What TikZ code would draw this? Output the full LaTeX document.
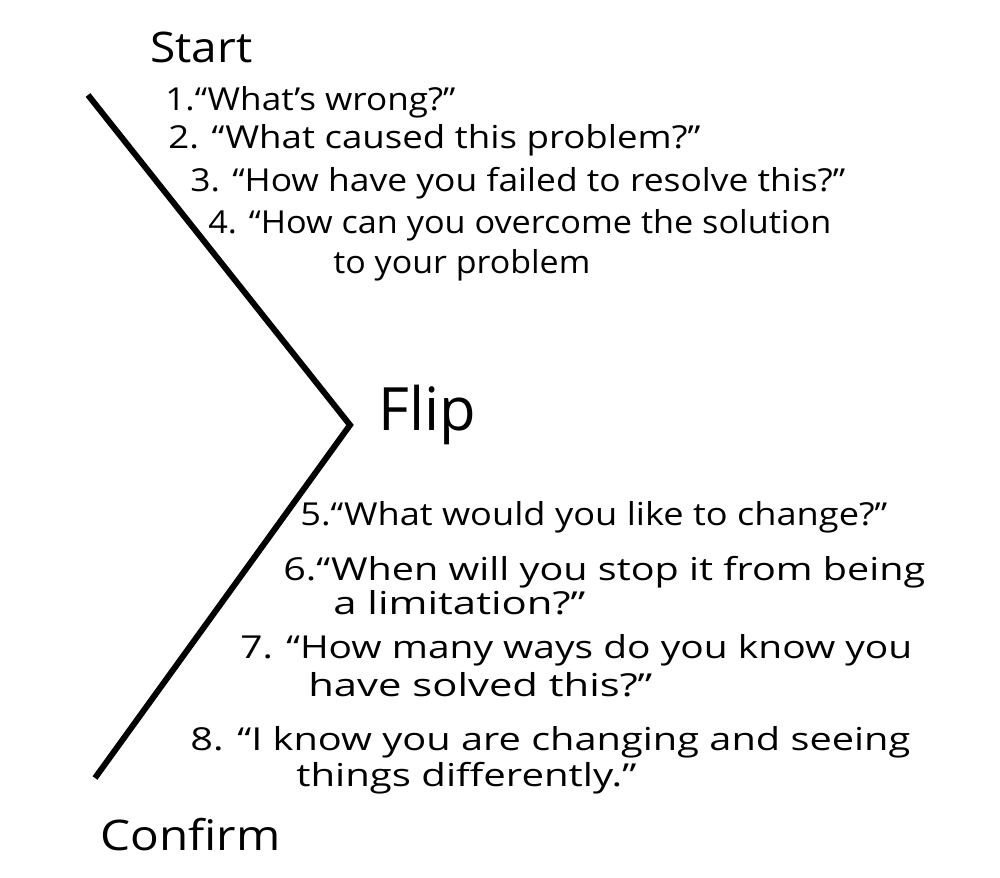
\documentclass[tikz,border=0pt]{standalone}
\usepackage{fontspec}
\usepackage{graphicx}
\setmainfont{Open Sans}
\newcommand{\hw}[2]{\resizebox{#1cm}{\height}{#2}}
\begin{document}
\begin{tikzpicture}[x=0.02cm,y=-0.02cm,
  hand/.style={anchor=west,inner sep=0pt,font=\fontsize{18}{20}\selectfont},
  title/.style={anchor=west,inner sep=0pt,font=\fontsize{24}{28}\selectfont},
  big/.style={anchor=west,inner sep=0pt,font=\fontsize{34}{38}\selectfont},
  chevron/.style={line width=3.4pt,line join=miter}]
\useasboundingbox[fill=white] (0,0) rectangle (1000,877);
\coordinate (top) at (88,95);
\coordinate (tip) at (350,425);
\coordinate (bot) at (95,778);
\draw[chevron] (top) -- (tip) -- (bot);
\node[title] (start) at (150,47) {\hw{2.04}{Start}};
\node[hand] (q1) at (165,102) {\hw{5.8}{1.“What’s wrong?”}};
\node[hand] (q2) at (168,140) {\hw{10.64}{2. “What caused this problem?”}};
\node[hand] (q3) at (190,183) {\hw{13.1}{3. “How have you failed to resolve this?”}};
\node[hand] (q4) at (208,225) {\hw{12.46}{4. “How can you overcome the solution}};
\node[hand] (q4b) at (333,265) {\hw{5.14}{to your problem}};
\node[big] (flip) at (378,415) {Flip};
\node[hand] (q5) at (300,517) {\hw{11.74}{5.“What would you like to change?”}};
\node[hand] (q6) at (283,572) {\hw{12.84}{6.“When will you stop it from being}};
\node[hand] (q6b) at (333,603) {\hw{5.04}{a limitation?”}};
\node[hand] (q7) at (240,650) {\hw{13.44}{7. “How many ways do you know you}};
\node[hand] (q7b) at (308,685) {\hw{6.88}{have solved this?”}};
\node[hand] (q8) at (190,742) {\hw{14.4}{8. “I know you are changing and seeing}};
\node[hand] (q8b) at (296,778) {\hw{6.8}{things differently.”}};
\node[title] (confirm) at (100,835) {\hw{3.6}{Confirm}};
\end{tikzpicture}
\end{document}
